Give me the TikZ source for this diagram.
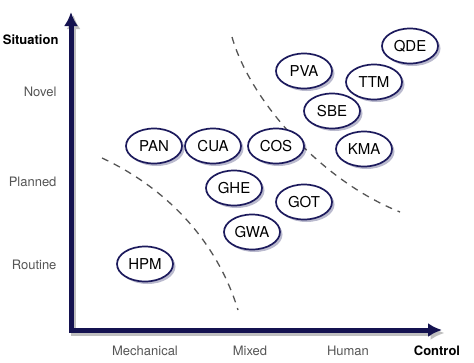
\documentclass[tikz,border=0pt]{standalone}
\usepackage{fontspec}
\setmainfont{TeX Gyre Heros}
\usetikzlibrary{arrows.meta,shapes.geometric,shadows}

\definecolor{axisblue}{RGB}{20,18,80}
\definecolor{rimblue}{RGB}{28,26,92}
\definecolor{labelgray}{RGB}{85,85,85}

\tikzset{
  bubble/.style={ellipse, draw=rimblue, line width=1.7pt, fill=white,
    minimum width=56pt, minimum height=35pt, inner sep=0pt,
    font=\fontsize{15}{15}\selectfont,
    drop shadow={shadow xshift=2.5pt, shadow yshift=-2.5pt, fill=rimblue, opacity=0.3}},
  axislabel/.style={font=\fontsize{13}{13}\selectfont, text=labelgray},
  axistitle/.style={font=\bfseries\fontsize{13}{13}\selectfont},
  boundary/.style={labelgray, line width=1.3pt, dash pattern=on 7pt off 6pt},
  axisline/.style={line width=5pt, line join=miter,
    {Latex[length=14pt,width=14pt]}-{Latex[length=14pt,width=14pt]}}
}

\begin{document}
\begin{tikzpicture}[x=1pt,y=-1pt]
\useasboundingbox (0,0) rectangle (474,362);
\coordinate (origin) at (71,330);
\coordinate (ytip) at (71,12);
\coordinate (xtip) at (442,330);

% axes with a soft shadow
\draw[axisline, black!25] ([shift={(2.5,3)}]ytip) -- ([shift={(2.5,3)}]origin) -- ([shift={(2.5,3)}]xtip);
\draw[axisline, axisblue] (ytip) -- (origin) -- (xtip);

% axis texts
\node[axistitle, anchor=east] (situation) at (62,40) {Situation};
\foreach \l/\y in {Novel/92,Planned/182,Routine/265} {
  \node[axislabel, anchor=east] (\l) at (60,\y) {\l};
}
\foreach \l/\x in {Mechanical/145,Mixed/250,Human/348} {
  \node[axislabel] (\l) at (\x,351) {\l};
}
\node[axistitle] (control) at (437,351) {Control};

% region boundaries
\draw[boundary] (102,158) .. controls (160,185) and (215,235) .. (238,310);
\draw[boundary] (232,37) .. controls (250,100) and (320,180) .. (400,212);

% systems
\foreach \n/\x/\y in {PAN/154/146,CUA/213/146,COS/276/146,PVA/304/71,QDE/410/46,
                      TTM/374/82,SBE/332/111,KMA/364/149,GHE/234/188,GOT/304/202,
                      GWA/252/232,HPM/145/264} {
  \node[bubble] (\n) at (\x,\y) {\n};
}
\end{tikzpicture}
\end{document}
